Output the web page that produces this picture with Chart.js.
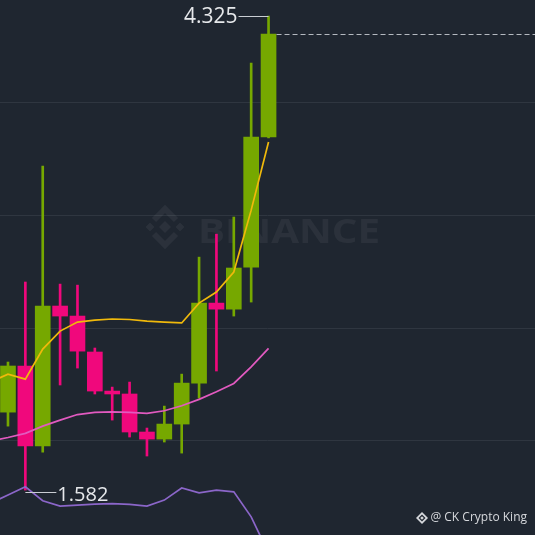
<!DOCTYPE html>
<html>
<head>
<meta charset="utf-8">
<script src="https://cdn.jsdelivr.net/npm/chart.js@4.4.1/dist/chart.umd.min.js"></script>
<style>
  html,body{margin:0;padding:0;background:#1f2630;}
  #wrap{width:535px;height:535px;position:relative;}
</style>
</head>
<body>
<div id="wrap"><canvas id="c"></canvas></div>
<script>
// candles, left to right
const candleIdx = [0,1,2,3,4,5,6,7,8,9,10,11,12,13,14,15];
const opens  = [2.033,2.300,1.837,2.647,2.589,2.381,2.155,2.138,1.918,1.877,1.964,2.201,2.664,2.629,2.872,3.625];
const closes = [2.300,1.837,2.647,2.589,2.386,2.155,2.138,1.918,1.877,1.964,2.201,2.664,2.629,2.867,3.625,4.221];
const highs  = [2.323,2.786,3.457,2.774,2.768,2.404,2.178,2.207,1.941,2.068,2.253,2.930,3.063,3.162,4.053,4.325];
const lows   = [1.952,1.582,1.802,2.190,2.288,2.138,1.987,1.889,1.779,1.860,1.796,2.114,2.271,2.589,2.670,3.620];
// moving averages (one point before the first visible candle)
const maIdx = [-1,0,1,2,3,4,5,6,7,8,9,10,11,12,13,14,15];
const ma7  = [2.207,2.253,2.224,2.398,2.502,2.554,2.566,2.572,2.569,2.560,2.554,2.549,2.664,2.728,2.844,3.202,3.596];
const ma25 = [1.866,1.886,1.910,1.952,1.987,2.019,2.032,2.035,2.032,2.026,2.041,2.070,2.107,2.151,2.199,2.295,2.402];
const ma99 = [1.507,1.553,1.601,1.520,1.489,1.495,1.501,1.504,1.499,1.489,1.524,1.594,1.566,1.582,1.572,1.427,1.217];
const gridPrices = [1.871,2.519,3.173,3.822];
const gridIdx = [2];
const maxLabel = '4.325', minLabel = '1.582';

const UP='#76a800', DOWN='#f0087c';
const colors = candleIdx.map(i=>closes[i]>=opens[i]?UP:DOWN);
const pts = (xs,ys)=>xs.map((x,i)=>({x,y:ys[i]}));

const overlay = {
  id:'overlay',
  beforeDatasetsDraw(chart){
    const ctx=chart.ctx; ctx.save();
    ctx.fillStyle='rgba(255,255,255,0.055)';
    // logo
    const cx=165, cy=227, s=6;
    const dia=(x,y,r)=>{ctx.beginPath();ctx.moveTo(x,y-r);ctx.lineTo(x+r,y);ctx.lineTo(x,y+r);ctx.lineTo(x-r,y);ctx.closePath();ctx.fill();};
    dia(cx,cy,s); dia(cx-15,cy,4.5); dia(cx+15,cy,4.5);
    ctx.strokeStyle='rgba(255,255,255,0.055)'; ctx.lineWidth=6; ctx.lineJoin='miter';
    ctx.beginPath();ctx.moveTo(cx-11,cy-7);ctx.lineTo(cx,cy-18);ctx.lineTo(cx+11,cy-7);ctx.stroke();
    ctx.beginPath();ctx.moveTo(cx-11,cy+7);ctx.lineTo(cx,cy+18);ctx.lineTo(cx+11,cy+7);ctx.stroke();
    ctx.font='bold 34px "Open Sans"'; ctx.textBaseline='alphabetic';
    const w=ctx.measureText('BINANCE').width;
    ctx.translate(198,243); ctx.scale(182/w,1); ctx.fillText('BINANCE',0,0);
    ctx.restore();
  },
  afterDraw(chart){
    const ctx=chart.ctx, x=chart.scales.x, y=chart.scales.y; ctx.save();
    const last=candleIdx.length-1;
    // current price dashed line
    const yc=Math.round(y.getPixelForValue(closes[last]))+0.5;
    ctx.strokeStyle='#b4b9c0'; ctx.lineWidth=1; ctx.setLineDash([5,3]);
    ctx.beginPath(); ctx.moveTo(x.getPixelForValue(last)+8,yc); ctx.lineTo(535,yc); ctx.stroke();
    ctx.setLineDash([]);
    // max / min markers
    let hi=0, lo=0;
    highs.forEach((v,i)=>{ if(v>highs[hi]) hi=i; });
    lows.forEach((v,i)=>{ if(v<lows[lo]) lo=i; });
    ctx.strokeStyle='#c9cdd3'; ctx.fillStyle='#e6e8eb'; ctx.font='21px "Open Sans"'; ctx.textBaseline='middle';
    const yh=Math.round(y.getPixelForValue(highs[hi]))+0.5, xh=x.getPixelForValue(hi);
    ctx.beginPath(); ctx.moveTo(xh,yh); ctx.lineTo(xh-30,yh); ctx.stroke();
    ctx.textAlign='right'; ctx.fillText(maxLabel,xh-31,yh+1);
    const yl=Math.round(y.getPixelForValue(lows[lo]))+2.5, xl=x.getPixelForValue(lo);
    ctx.beginPath(); ctx.moveTo(xl,yl); ctx.lineTo(xl+31,yl); ctx.stroke();
    ctx.textAlign='left'; ctx.font='20px "Open Sans"'; ctx.fillText(minLabel,xl+32,yl+3);
    // corner watermark
    ctx.font='12px "Open Sans"'; ctx.fillStyle='#d6d8dc'; ctx.textAlign='right';
    ctx.fillText('@ CK Crypto King',527,518);
    const ix=422, iy=518;
    ctx.fillStyle='#d6d8dc';
    ctx.beginPath();ctx.moveTo(ix,iy-6);ctx.lineTo(ix+6,iy);ctx.lineTo(ix,iy+6);ctx.lineTo(ix-6,iy);ctx.closePath();ctx.fill();
    ctx.fillStyle='#1f2630';
    ctx.beginPath();ctx.moveTo(ix,iy-3.5);ctx.lineTo(ix+3.5,iy);ctx.lineTo(ix,iy+3.5);ctx.lineTo(ix-3.5,iy);ctx.closePath();ctx.fill();
    ctx.fillStyle='#d6d8dc';
    ctx.beginPath();ctx.moveTo(ix,iy-1.8);ctx.lineTo(ix+1.8,iy);ctx.lineTo(ix,iy+1.8);ctx.lineTo(ix-1.8,iy);ctx.closePath();ctx.fill();
    ctx.restore();
  }
};

const line=(data,color)=>({type:'line',data:pts(maIdx,data),borderColor:color,borderWidth:1.7,pointRadius:0,tension:0,fill:false});

new Chart(document.getElementById('c'),{
  data:{datasets:[
    line(ma7,'#f0b90b'),
    line(ma25,'#e25ac0'),
    line(ma99,'#8b66c9'),
    {type:'bar',data:candleIdx.map(i=>({x:i,y:[opens[i],closes[i]]})),backgroundColor:colors,barThickness:15,grouped:false,borderWidth:0},
    {type:'bar',data:candleIdx.map(i=>({x:i,y:[lows[i],highs[i]]})),backgroundColor:colors,barThickness:2,grouped:false,borderWidth:0}
  ]},
  options:{
    responsive:true,maintainAspectRatio:false,animation:false,
    layout:{padding:0},
    plugins:{legend:{display:false},tooltip:{enabled:false}},
    scales:{
      x:{type:'linear',min:-0.46,max:30.34,offset:false,
        afterBuildTicks:s=>{s.ticks=gridIdx.map(v=>({value:v}));},
        ticks:{display:false},border:{display:false},
        grid:{color:'#2f3640',drawTicks:false,tickLength:0}},
      y:{type:'linear',min:1.322,max:4.418,
        afterBuildTicks:s=>{s.ticks=gridPrices.map(v=>({value:v}));},
        ticks:{display:false},border:{display:false},
        grid:{color:'#2f3640',drawTicks:false,tickLength:0}}
    }
  },
  plugins:[overlay]
});
</script>
</body>
</html>
